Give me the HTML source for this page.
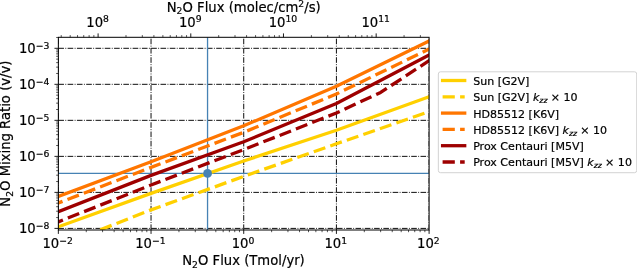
<!DOCTYPE html>
<html><head><meta charset="utf-8"><title>N2O flux vs mixing ratio</title>
<style>html,body{margin:0;padding:0;background:#fff;}svg{display:block;}text{font-family:"DejaVu Sans","Liberation Sans",sans-serif;fill:#000;stroke:#000;stroke-width:0.2px;}.t{font-size:13.2px}.l{font-size:11.05px}.i{font-style:italic}</style>
</head><body>
<svg width="637" height="268" viewBox="0 0 637 268">
<rect x="0" y="0" width="637" height="268" fill="#fff"/>
<defs><clipPath id="ax"><rect x="58.35" y="37.30" width="370.75" height="192.70"/></clipPath></defs>
<g stroke="#000" stroke-width="0.95" stroke-dasharray="5.606 1.402 0.876 1.402" fill="none" clip-path="url(#ax)">
<path d="M58.35 230.00 V37.30"/>
<path d="M151.04 230.00 V37.30"/>
<path d="M243.72 230.00 V37.30"/>
<path d="M336.41 230.00 V37.30"/>
<path d="M429.10 230.00 V37.30"/>
<path d="M58.35 228.40 H429.10"/>
<path d="M58.35 192.38 H429.10"/>
<path d="M58.35 156.36 H429.10"/>
<path d="M58.35 120.34 H429.10"/>
<path d="M58.35 84.32 H429.10"/>
<path d="M58.35 48.30 H429.10"/>
</g>
<g fill="none" clip-path="url(#ax)">
<path d="M207.55 230.00 V37.30" stroke="#4682b4" stroke-width="1.3"/>
<path d="M58.35 173.45 H429.10" stroke="#4682b4" stroke-width="1.3"/>
<path d="M52.35 228.96 L58.35 226.80 L151.04 193.40 L243.72 161.00 L336.41 130.30 L429.10 96.80 L435.10 94.63" stroke="#ffd000" stroke-width="3.3" stroke-linejoin="round"/>
<path d="M52.35 248.55 L58.35 246.20 L151.04 209.90 L243.72 176.40 L336.41 143.80 L429.10 111.70 L435.10 109.62" stroke="#ffd000" stroke-width="3.3" stroke-dasharray="12.210 5.280" stroke-dashoffset="1.03" stroke-linejoin="round"/>
<path d="M52.35 198.65 L58.35 196.40 L151.04 161.70 L243.72 125.80 L336.41 86.30 L429.10 40.90 L435.10 37.96" stroke="#ff7600" stroke-width="3.3" stroke-linejoin="round"/>
<path d="M52.35 205.30 L58.35 203.00 L151.04 167.40 L243.72 132.30 L336.41 94.00 L429.10 49.10 L435.10 46.19" stroke="#ff7600" stroke-width="3.3" stroke-dasharray="12.210 5.280" stroke-dashoffset="1.30" stroke-linejoin="round"/>
<path d="M52.35 213.94 L58.35 211.60 L151.04 175.40 L243.72 141.80 L336.41 103.45 L429.10 55.00 L435.10 51.86" stroke="#9e0000" stroke-width="3.3" stroke-linejoin="round"/>
<path d="M52.35 224.24 L58.35 221.85 L151.04 185.00 L243.72 149.60 L336.41 113.00 L380.64 92.40 L429.10 60.70 L435.10 56.78" stroke="#9e0000" stroke-width="3.3" stroke-dasharray="12.210 5.280" stroke-dashoffset="0.82" stroke-linejoin="round"/>
</g>
<circle cx="207.55" cy="173.45" r="4.4" fill="#4682b4"/>
<path d="M58.35 230.00 v3.90 M151.04 230.00 v3.90 M243.72 230.00 v3.90 M336.41 230.00 v3.90 M429.10 230.00 v3.90 M98.10 37.30 v-3.90 M190.79 37.30 v-3.90 M283.48 37.30 v-3.90 M376.16 37.30 v-3.90 M58.35 228.40 h-3.90 M58.35 192.38 h-3.90 M58.35 156.36 h-3.90 M58.35 120.34 h-3.90 M58.35 84.32 h-3.90 M58.35 48.30 h-3.90" stroke="#000" stroke-width="0.89" fill="none"/>
<path d="M86.25 230.00 v2.20 M102.57 230.00 v2.20 M114.15 230.00 v2.20 M123.14 230.00 v2.20 M130.47 230.00 v2.20 M136.68 230.00 v2.20 M142.06 230.00 v2.20 M146.80 230.00 v2.20 M178.94 230.00 v2.20 M195.26 230.00 v2.20 M206.84 230.00 v2.20 M215.82 230.00 v2.20 M223.16 230.00 v2.20 M229.37 230.00 v2.20 M234.74 230.00 v2.20 M239.48 230.00 v2.20 M271.63 230.00 v2.20 M287.95 230.00 v2.20 M299.53 230.00 v2.20 M308.51 230.00 v2.20 M315.85 230.00 v2.20 M322.06 230.00 v2.20 M327.43 230.00 v2.20 M332.17 230.00 v2.20 M364.31 230.00 v2.20 M380.64 230.00 v2.20 M392.22 230.00 v2.20 M401.20 230.00 v2.20 M408.54 230.00 v2.20 M414.74 230.00 v2.20 M420.12 230.00 v2.20 M424.86 230.00 v2.20 M61.22 37.30 v-2.20 M70.20 37.30 v-2.20 M77.54 37.30 v-2.20 M83.74 37.30 v-2.20 M89.12 37.30 v-2.20 M93.86 37.30 v-2.20 M126.00 37.30 v-2.20 M142.32 37.30 v-2.20 M153.90 37.30 v-2.20 M162.89 37.30 v-2.20 M170.23 37.30 v-2.20 M176.43 37.30 v-2.20 M181.81 37.30 v-2.20 M186.55 37.30 v-2.20 M218.69 37.30 v-2.20 M235.01 37.30 v-2.20 M246.59 37.30 v-2.20 M255.57 37.30 v-2.20 M262.91 37.30 v-2.20 M269.12 37.30 v-2.20 M274.49 37.30 v-2.20 M279.24 37.30 v-2.20 M311.38 37.30 v-2.20 M327.70 37.30 v-2.20 M339.28 37.30 v-2.20 M348.26 37.30 v-2.20 M355.60 37.30 v-2.20 M361.81 37.30 v-2.20 M367.18 37.30 v-2.20 M371.92 37.30 v-2.20 M404.07 37.30 v-2.20 M420.39 37.30 v-2.20 M58.35 217.56 h-2.20 M58.35 211.21 h-2.20 M58.35 206.71 h-2.20 M58.35 203.22 h-2.20 M58.35 200.37 h-2.20 M58.35 197.96 h-2.20 M58.35 195.87 h-2.20 M58.35 194.03 h-2.20 M58.35 181.54 h-2.20 M58.35 175.19 h-2.20 M58.35 170.69 h-2.20 M58.35 167.20 h-2.20 M58.35 164.35 h-2.20 M58.35 161.94 h-2.20 M58.35 159.85 h-2.20 M58.35 158.01 h-2.20 M58.35 145.52 h-2.20 M58.35 139.17 h-2.20 M58.35 134.67 h-2.20 M58.35 131.18 h-2.20 M58.35 128.33 h-2.20 M58.35 125.92 h-2.20 M58.35 123.83 h-2.20 M58.35 121.99 h-2.20 M58.35 109.50 h-2.20 M58.35 103.15 h-2.20 M58.35 98.65 h-2.20 M58.35 95.16 h-2.20 M58.35 92.31 h-2.20 M58.35 89.90 h-2.20 M58.35 87.81 h-2.20 M58.35 85.97 h-2.20 M58.35 73.48 h-2.20 M58.35 67.13 h-2.20 M58.35 62.63 h-2.20 M58.35 59.14 h-2.20 M58.35 56.29 h-2.20 M58.35 53.88 h-2.20 M58.35 51.79 h-2.20 M58.35 49.95 h-2.20 M58.35 37.46 h-2.20" stroke="#000" stroke-width="0.67" fill="none"/>
<rect x="58.35" y="37.30" width="370.75" height="192.70" fill="none" stroke="#000" stroke-width="1.0"/>
<text class="t" x="42.44" y="248.35">10<tspan dy="-4.80" font-size="9.24px">−2</tspan></text>
<text class="t" x="135.13" y="248.35">10<tspan dy="-4.80" font-size="9.24px">−1</tspan></text>
<text class="t" x="231.69" y="248.35">10<tspan dy="-4.80" font-size="9.24px">0</tspan></text>
<text class="t" x="324.38" y="248.35">10<tspan dy="-4.80" font-size="9.24px">1</tspan></text>
<text class="t" x="417.06" y="248.35">10<tspan dy="-4.80" font-size="9.24px">2</tspan></text>
<text class="t" x="86.26" y="26.70">10<tspan dy="-5.00" font-size="9.24px">8</tspan></text>
<text class="t" x="178.95" y="26.70">10<tspan dy="-5.00" font-size="9.24px">9</tspan></text>
<text class="t" x="268.70" y="26.70">10<tspan dy="-5.00" font-size="9.24px">10</tspan></text>
<text class="t" x="361.39" y="26.70">10<tspan dy="-5.00" font-size="9.24px">11</tspan></text>
<text class="t" x="18.98" y="233.40">10<tspan dy="-4.80" font-size="9.24px">−8</tspan></text>
<text class="t" x="18.98" y="197.38">10<tspan dy="-4.80" font-size="9.24px">−7</tspan></text>
<text class="t" x="18.98" y="161.36">10<tspan dy="-4.80" font-size="9.24px">−6</tspan></text>
<text class="t" x="18.98" y="125.34">10<tspan dy="-4.80" font-size="9.24px">−5</tspan></text>
<text class="t" x="18.98" y="89.32">10<tspan dy="-4.80" font-size="9.24px">−4</tspan></text>
<text class="t" x="18.98" y="53.30">10<tspan dy="-4.80" font-size="9.24px">−3</tspan></text>
<text class="t" x="182.22" y="265.10">N<tspan dy="2.4" font-size="9.24px">2</tspan><tspan dy="-2.4">O Flux (Tmol/yr)</tspan></text>
<text class="t" x="166.72" y="11.75">N<tspan dy="2.4" font-size="9.24px">2</tspan><tspan dy="-2.4">O Flux (molec/cm</tspan><tspan dy="-4.8" font-size="9.24px">2</tspan><tspan dy="4.8">/s)</tspan></text>
<text class="t" x="10.20" y="206.68" transform="rotate(-90 10.20 206.68)">N<tspan dy="2.4" font-size="9.24px">2</tspan><tspan dy="-2.4">O Mixing Ratio (v/v)</tspan></text>
<rect x="438.35" y="71.80" width="198.35" height="100.90" rx="2.2" ry="2.2" fill="#fff" fill-opacity="0.8" stroke="#ccc" stroke-width="0.89"/>
<path d="M442.60 80.50 H464.70" stroke="#ffd000" stroke-width="3.3" fill="none" stroke-linecap="square"/>
<text class="l" x="473.15" y="85.20">Sun [G2V]</text>
<path d="M442.60 96.80 H464.70" stroke="#ffd000" stroke-width="3.3" fill="none" stroke-dasharray="12.21 5.28"/>
<text class="l" x="473.15" y="101.40">Sun [G2V] <tspan class="i">k</tspan><tspan class="i" dy="1.9" font-size="7.74px">zz</tspan><tspan dy="-1.9" dx="3.2">× 10</tspan></text>
<path d="M442.60 113.10 H464.70" stroke="#ff7600" stroke-width="3.3" fill="none" stroke-linecap="square"/>
<text class="l" x="473.15" y="117.60">HD85512 [K6V]</text>
<path d="M442.60 129.40 H464.70" stroke="#ff7600" stroke-width="3.3" fill="none" stroke-dasharray="12.21 5.28"/>
<text class="l" x="473.15" y="133.80">HD85512 [K6V] <tspan class="i">k</tspan><tspan class="i" dy="1.9" font-size="7.74px">zz</tspan><tspan dy="-1.9" dx="3.2">× 10</tspan></text>
<path d="M442.60 145.70 H464.70" stroke="#9e0000" stroke-width="3.3" fill="none" stroke-linecap="square"/>
<text class="l" x="473.15" y="150.00">Prox Centauri [M5V]</text>
<path d="M442.60 162.00 H464.70" stroke="#9e0000" stroke-width="3.3" fill="none" stroke-dasharray="12.21 5.28"/>
<text class="l" x="473.15" y="166.20">Prox Centauri [M5V] <tspan class="i">k</tspan><tspan class="i" dy="1.9" font-size="7.74px">zz</tspan><tspan dy="-1.9" dx="3.2">× 10</tspan></text>
</svg></body></html>
